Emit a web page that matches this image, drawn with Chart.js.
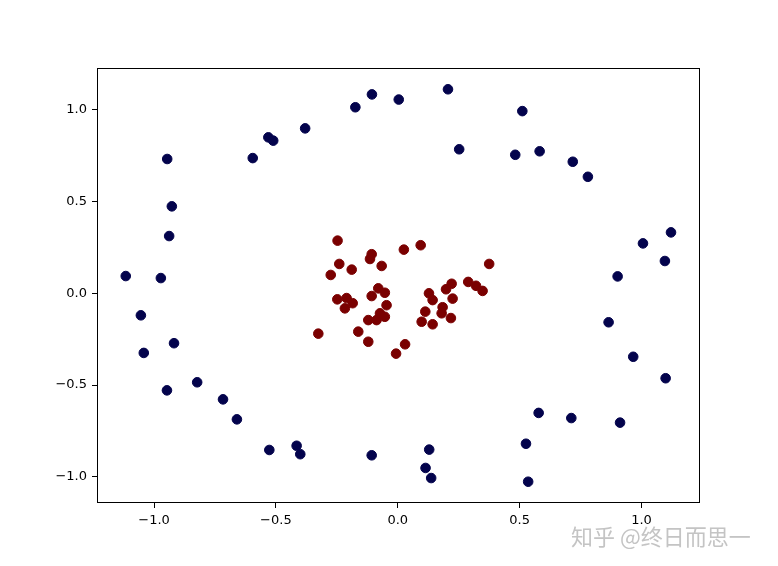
<!DOCTYPE html>
<html><head><meta charset="utf-8">
<script src="https://cdn.jsdelivr.net/npm/chart.js"></script>
<style>html,body{margin:0;padding:0;background:#fff}</style>
</head><body>
<canvas id="c" width="778" height="566"></canvas>
<script>
const outerX = [-1.116,-0.972,-0.946,-0.927,-0.938,-0.595,-0.531,-0.511,-0.380,-0.174,-0.106,0.004,0.206,0.511,0.252,0.482,0.582,0.718,0.780,1.006,1.121,1.096,0.902,-1.054,-0.918,-1.042,-0.823,-0.947,-0.717,-0.660,-0.527,-0.415,-0.400,-0.107,0.865,0.966,1.099,0.578,0.712,0.912,0.526,0.129,0.114,0.137,0.535];
const outerY = [0.094,0.083,0.732,0.474,0.312,0.737,0.850,0.832,0.899,1.014,1.084,1.056,1.112,0.993,0.785,0.755,0.774,0.717,0.635,0.272,0.332,0.176,0.092,-0.120,-0.272,-0.325,-0.485,-0.529,-0.578,-0.687,-0.854,-0.831,-0.877,-0.883,-0.158,-0.346,-0.463,-0.652,-0.680,-0.705,-0.820,-0.852,-0.952,-1.007,-1.027];
const innerX = [-0.247,0.094,0.025,-0.107,-0.114,-0.240,-0.189,-0.066,-0.275,0.375,0.289,0.321,0.348,0.221,0.198,0.128,0.143,0.225,-0.080,-0.053,-0.107,-0.210,-0.248,-0.185,-0.217,-0.046,0.184,0.180,0.113,0.218,-0.073,-0.053,-0.087,-0.121,0.098,0.143,-0.326,-0.162,-0.121,0.030,-0.007];
const innerY = [0.287,0.262,0.238,0.213,0.187,0.160,0.129,0.149,0.100,0.160,0.062,0.041,0.013,0.052,0.022,0.000,-0.037,-0.029,0.027,0.003,-0.015,-0.026,-0.033,-0.054,-0.082,-0.065,-0.076,-0.109,-0.100,-0.135,-0.109,-0.128,-0.146,-0.146,-0.155,-0.169,-0.220,-0.209,-0.264,-0.278,-0.329];
const xTicks = [-1.0,-0.5,0.0,0.5,1.0];
const yTicks = [-1.0,-0.5,0.0,0.5,1.0];
const watermark = '知乎 @终日而思一';

function pts(xs, ys){ return xs.map((x,i)=>({x:x, y:ys[i]})); }
function fmt(v){ return v.toFixed(1).replace('-', '\u2212'); }

const frame = {
  id:'frame',
  afterDraw(chart){
    const a = chart.chartArea, ctx = chart.ctx;
    ctx.save();
    ctx.strokeStyle = '#000'; ctx.lineWidth = 1;
    ctx.strokeRect(Math.round(a.left)+0.5, Math.round(a.top)+0.5, Math.round(a.right-a.left)-1, Math.round(a.bottom-a.top)-1);
    ctx.font = '22px "Noto Sans CJK SC"';
    ctx.fillStyle = '#c4c4c4';
    ctx.textBaseline = 'middle';
    ctx.fillText(watermark, 571, 537);
    ctx.restore();
  }
};

new Chart(document.getElementById('c'), {
  type:'scatter',
  data:{datasets:[
    {data:pts(outerX, outerY), backgroundColor:'#03034c', borderColor:'#03034c', pointRadius:4.8, borderWidth:1},
    {data:pts(innerX, innerY), backgroundColor:'#7a0000', borderColor:'#7a0000', pointRadius:4.8, borderWidth:1}
  ]},
  options:{
    responsive:false, animation:false,
    layout:{padding:{left:0, top:68, right:78, bottom:0}},
    plugins:{legend:{display:false}, tooltip:{enabled:false}},
    scales:{
      x:{min:-1.234, max:1.240,
        afterBuildTicks(s){ s.ticks = xTicks.map(v=>({value:v})); },
        afterFit(s){ s.height = 63; },
        ticks:{callback:v=>fmt(v), color:'#000', font:{family:'DejaVu Sans', size:13}, padding:5, maxRotation:0, autoSkip:false},
        grid:{drawOnChartArea:false, drawTicks:true, tickLength:5, color:'#000'},
        border:{display:false}},
      y:{min:-1.143, max:1.228,
        afterBuildTicks(s){ s.ticks = yTicks.map(v=>({value:v})); },
        afterFit(s){ s.width = 97; },
        ticks:{callback:v=>fmt(v), color:'#000', font:{family:'DejaVu Sans', size:13}, padding:5, autoSkip:false},
        grid:{drawOnChartArea:false, drawTicks:true, tickLength:5, color:'#000'},
        border:{display:false}}
    }
  },
  plugins:[frame]
});
</script>
</body></html>
